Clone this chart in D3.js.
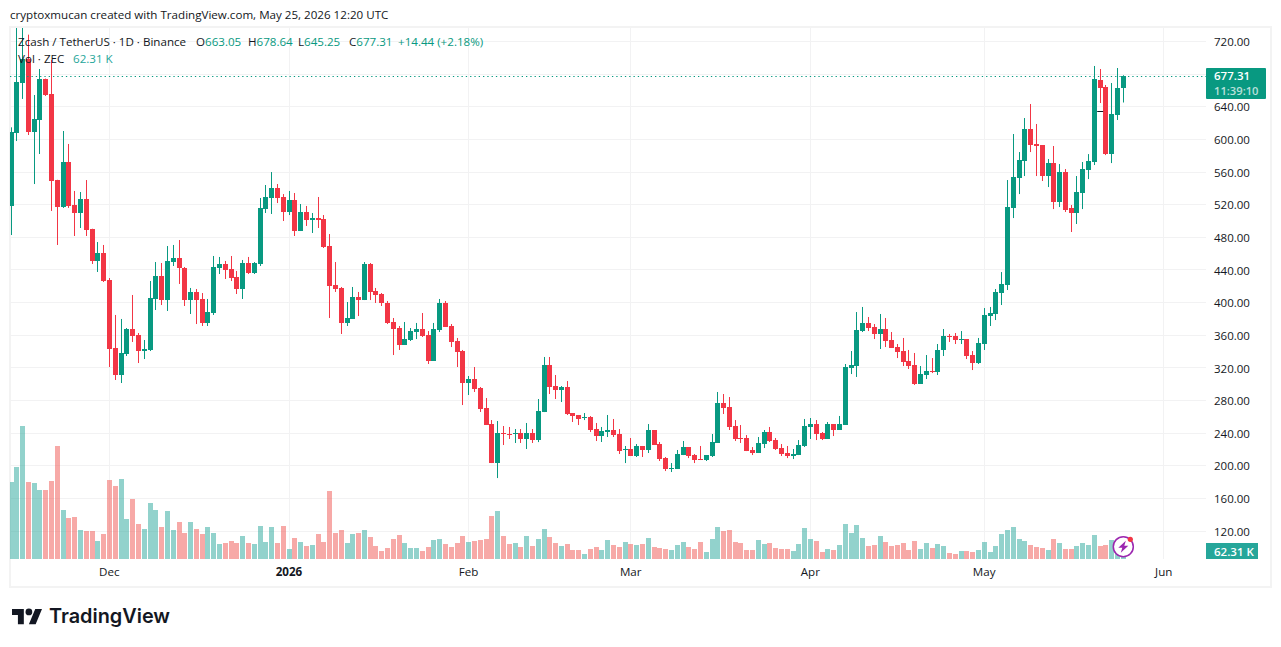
<!DOCTYPE html>
<html><head><meta charset="utf-8">
<script src="https://cdn.jsdelivr.net/npm/d3@7/dist/d3.min.js"></script>
<style>
html,body{margin:0;padding:0;background:#fff;overflow:hidden}
svg{display:block}
text{font-family:"Open Sans",sans-serif;fill:#131722}
</style></head><body>
<svg id="c" width="1281" height="647"></svg>
<script>
const firstDay = "2025-11-14";
const opens = [518.8,608.3,669.6,699,609,623.8,674,655.7,550.2,517.2,
572.3,519.6,509.8,527,490.2,451,460.8,427.7,344.3,311.2,
337,367.6,360.2,340.6,341.9,404.4,432.6,403.1,449.7,454.6,
442.4,403.1,413,404.4,375,387.2,442.4,447.3,441.1,431.3,
416.6,448.5,436.2,447.3,514.7,528.2,540.4,529.4,511,525.7,
487.7,511,501.2,503.7,502.4,469.3,421.5,417.9,375,379.9,
406.8,403.1,447.3,414.2,410.5,399.5,376.2,368.8,348,354.1,
363.9,367.6,360.2,328.4,366.4,399.5,371.3,352.9,340.6,301.4,
306.3,295.3,270.8,251.1,203.3,240.1,239.5,239,240.1,232.8,
240.1,231.5,265.8,323.5,297.7,292.8,296.5,264.6,262.2,258.5,
259.7,245,236.4,241.3,243.8,238.9,219.3,220.5,211.9,224.2,
219.3,243.8,226.6,209.4,196,196,213.1,222.9,213.1,208.2,
207,211.9,227.9,276.9,272,248.7,234,234,219.3,215.6,
226.6,241.3,231.5,221.7,215.6,211.9,213.1,224.2,247.5,251.1,
240.1,232.8,251.1,243.8,250,319.8,322.2,365.1,375,370,
361.5,367.6,354.1,345.5,340.6,328.4,323.5,300.2,311.2,316.1,
314.9,341.9,359,359,354.1,355.3,335.7,325.9,349.2,383.5,
386,411.7,421.5,515.9,552.7,573.5,612.7,594.3,593.1,555.1,
571,523.2,560,515.9,509.8,534.3,562.5,572.3,672.8,664.2,
582,629.9,663.05];
const closes = [608.7,670.4,699,609,625,674,654.4,549,517.2,572.3,
518.4,509.8,527,489,451,460.8,426.4,343.1,311.2,338.2,
367.6,359,340.6,343.1,405.6,432.6,403.1,451,454.6,442.4,
403.1,413,403.1,375,388.4,443.6,447.3,439.9,430.1,416.6,
448.5,436.2,448.5,515.9,529.4,540.4,528.2,511,525.7,487.7,
511,501.2,503.7,501.2,468.1,420.3,416.6,375,381.1,406.8,
403.1,447.3,413,409.3,399.5,375,367.6,348,355.3,365.1,
367.6,359,328.4,367.6,399.5,370.1,351.7,339.4,301.4,306.3,
294,269.5,249.9,203.3,240.1,238.9,238.9,240,232.8,240.1,
231.5,267,323.5,296.5,292.8,296.5,263.4,260.9,257.3,259.7,
243.8,236.4,242.6,243.8,237.6,218,220.5,211.9,224.2,219.3,
243.8,225.4,208.2,196,197.2,214.4,222.9,211.9,207,207,
213.1,229.1,276.9,270.8,247.5,232.8,232.8,218,215.6,227.9,
241.3,230.3,220.5,214.4,211.9,214.4,225.4,248.7,251.1,238.9,
232.8,251.1,243.8,251.1,321,323.5,366.4,375,368.8,361.5,
367.6,352.9,344.3,339.4,327.1,322.2,300.2,312.4,316.1,314.9,
341.9,359,357.8,354.1,355.3,334.5,325.9,350.4,384.8,387.2,
412.9,422.7,517.1,553.9,574.7,612.7,593.1,591.9,555.1,571,
523.2,560,513.4,509.8,535.5,563.7,573.5,674,663,582,
631.1,663,677.31];
const highs = [614.8,780,760,728.4,654.4,686.3,674.5,697.3,550.5,610.3,
594.4,536.8,535.5,550.2,490.5,474.2,470.6,430.1,384.8,379.9,
368.8,409.3,362.7,354.1,426.4,449.7,448.5,469.3,470.6,476.7,
443.6,417.9,416.6,411.7,404.4,457.1,455.9,451,457.1,438.7,
452.2,455.9,449.7,528.2,544.1,560,545.3,533,536.8,534.3,
520.8,518.4,509.8,529.4,507.3,484,449.7,419.1,400.7,419.1,
413,449.7,448.5,417.9,411.7,401.9,381.1,371.3,376.2,368.8,
375,387.2,365.1,375,404.4,401.9,373.7,356.6,341.9,310,
321,296.5,283,256,254.8,248.7,247.5,245,245,252.4,
245,281.8,333.3,333.3,311.2,297.7,303.8,264.6,262.2,264.6,
260.9,252.4,247.5,262.2,257.3,245,224.2,234,226.6,224.2,
251.1,243.8,229.1,210.7,203.3,219.3,230.3,222.9,214.4,224.2,
213.1,238.9,290.4,287.9,284.2,256,249.9,237.6,222.9,235.2,
243.8,247.5,234,226.6,224.2,220.5,231.5,257.3,258.5,256,
241.3,253.6,251.1,261,324.7,340.6,388.4,394.6,382.3,373.7,
386,381.1,363.9,349.2,356.6,341.9,338.2,322.2,335.7,332,
349.2,367.6,361.5,362.7,365.1,355.3,340.6,356.6,393.3,394.6,
416.6,437.4,550.2,606.6,584.5,626.2,643.4,618.9,593.1,576,
591.9,569.8,563.7,519.6,555.1,572.3,582,690,686.3,666.7,
669.1,687.5,678.64];
const lows = [482.8,598,649.6,605.4,545.3,582.1,653.2,512.3,470.6,516,
516,481.6,491.4,481.6,447.3,437.5,425.2,321,305.1,301.4,
334.5,351.7,325.9,330.8,340.6,390.9,397,389.7,444.8,422.8,
395.8,386,373.7,371.3,371.3,384.8,435,428.9,426.4,410.5,
404.4,435,435,444.8,509.8,508.6,522,500,507.3,481.6,
487.7,493.9,485.3,491.4,466.9,381.1,413,361.5,371.3,379.9,
383.5,403.1,403.1,399.5,395.8,373.7,335.7,341.9,348,352.9,
355.3,357.8,324.7,328.4,363.9,370.1,345.5,321,274.4,286.7,
290.4,265.9,249.9,203.3,184.9,225.4,232.8,227.9,227.9,220.5,
227.9,229,265.8,287.9,281.8,278.1,262.2,253.6,249.9,256,
241.3,230.3,229.1,235.2,235.2,214.4,203.3,211.9,210.7,210.7,
215.6,225.4,205.8,193.5,192.3,196,213.1,209.4,203.3,207,
205.8,210.7,227.9,263.4,243.8,230.3,227.9,218,213.1,215.6,
221.7,229.1,219.3,211.9,209.4,208.2,213.1,223,232.8,231.5,
231.5,232.8,236.4,243.8,250,312.4,308.8,363.9,365.1,355.3,
343.1,345.5,344.3,332,322.2,318.6,299,300.2,306.3,313.6,
311.2,334.5,351.7,349.2,349.2,330.8,317.3,324.7,341.9,371.3,
378.6,397,415.4,503.6,533,555.1,584.5,555.1,549,541.6,
514.6,517.1,511,486.5,496.3,514.6,551.4,568.6,644.6,580.8,
571,623.8,645.25];
const volumes = [770,920,1330,770,760,690,690,780,1130,490,
410,420,290,280,280,180,250,790,730,800,
400,600,350,300,560,490,320,480,290,370,
260,370,300,250,320,260,150,160,180,160,
230,160,150,330,170,320,160,330,100,210,
170,130,140,250,170,680,260,290,160,250,
260,290,220,130,80,110,200,240,160,110,
110,80,120,190,200,150,120,160,230,170,
180,190,200,430,480,230,150,160,120,230,
130,200,300,220,160,130,150,90,90,50,
100,120,90,190,140,120,170,150,140,150,
210,120,110,100,90,140,170,120,100,170,
70,200,320,280,290,170,160,90,90,190,
150,160,110,100,100,80,150,310,200,180,
70,100,90,140,350,260,340,210,130,140,
230,170,130,140,160,90,180,100,160,110,
150,130,60,50,80,80,70,90,170,70,
130,250,290,320,200,180,140,120,110,90,
200,160,100,100,130,160,140,240,130,140,
190,150,62.31];
const priceTickLabels = [720,640,600,560,520,480,440,400,360,320,280,240,200,160,120];
const gridPrices = [720,680,640,600,560,520,480,440,400,360,320,280,240,200,160,120];
const timeTickDates = ["2025-12-01","2026-01-01","2026-02-01","2026-03-01","2026-04-01","2026-05-01","2026-06-01"];
const timeTickLabels = ["Dec","2026","Feb","Mar","Apr","May","Jun"];
const lastPrice = 677.31, lastVolumeLabel = "62.31 K", countdown = "11:39:10";
const markPrice = 634.8;

const UP = "#089981", DOWN = "#F23645";
const svg = d3.select("#c");
const parse = d3.utcParse("%Y-%m-%d");
const start = parse(firstDay);
const dates = opens.map((_, i) => d3.utcDay.offset(start, i));
const x = d3.scaleUtc().domain([parse("2025-12-01"), parse("2026-06-01")]).range([109.5, 1163.9]);
const y = d3.scaleLinear().domain([720, 120]).range([41.5, 531]);
const yVol = d3.scaleLinear().domain([0, 1500]).range([559, 409]);
const plot = {l: 10, r: 1206, t: 28, b: 559};

svg.append("text").attr("x", 10).attr("y", 19).attr("font-size", 11.6).text("cryptoxmucan created with TradingView.com, May 25, 2026 12:20 UTC");

// frame
svg.append("rect").attr("x", 10).attr("y", 27).attr("width", 1261).attr("height", 560)
  .attr("fill", "none").attr("stroke", "#f3f3f3").attr("stroke-width", 2);

svg.append("defs").append("clipPath").attr("id", "pc").append("rect")
  .attr("x", plot.l).attr("y", plot.t).attr("width", plot.r - plot.l).attr("height", plot.b - plot.t);

// grid
const grid = svg.append("g").attr("stroke", "#f2f2f3").attr("stroke-width", 1);
grid.selectAll(".h").data(gridPrices).join("line").attr("x1", plot.l).attr("x2", plot.r)
  .attr("y1", d => Math.floor(y(d)) + .5).attr("y2", d => Math.floor(y(d)) + .5);
grid.selectAll(".v").data(timeTickDates).join("line")
  .attr("x1", d => Math.floor(x(parse(d))) + .5).attr("x2", d => Math.floor(x(parse(d))) + .5)
  .attr("y1", plot.t).attr("y2", plot.b);

const g = svg.append("g").attr("clip-path", "url(#pc)");
const idx = d3.range(opens.length);
const col = i => closes[i] >= opens[i] ? UP : DOWN;
const volCol = i => closes[i] >= opens[i] ? "rgba(38,166,154,.5)" : "rgba(239,83,80,.5)";

// volume
g.append("g").selectAll("rect").data(idx).join("rect")
  .attr("x", i => Math.floor(x(dates[i])) - 2).attr("width", 5)
  .attr("y", i => yVol(volumes[i])).attr("height", i => yVol(0) - yVol(volumes[i]))
  .attr("fill", volCol);

// candles
g.append("g").selectAll("rect").data(idx).join("rect")
  .attr("x", i => Math.floor(x(dates[i]))).attr("width", 1)
  .attr("y", i => y(highs[i])).attr("height", i => y(lows[i]) - y(highs[i]))
  .attr("fill", col);
g.append("g").selectAll("rect").data(idx).join("rect")
  .attr("x", i => Math.floor(x(dates[i])) - 2).attr("width", 5)
  .attr("y", i => Math.round(y(Math.max(opens[i], closes[i]))))
  .attr("height", i => Math.max(1, Math.round(y(Math.min(opens[i], closes[i]))) - Math.round(y(Math.max(opens[i], closes[i])))))
  .attr("fill", col);

// small black mark
const mk = dates[188];
svg.append("line").attr("x1", x(mk) - 3).attr("x2", x(mk) + 3).attr("y1", Math.floor(y(markPrice)) + .5).attr("y2", Math.floor(y(markPrice)) + .5)
  .attr("stroke", "#131722").attr("stroke-width", 1);

// last price line
svg.append("line").attr("x1", plot.l).attr("x2", plot.r).attr("y1", Math.floor(y(lastPrice)) + .5).attr("y2", Math.floor(y(lastPrice)) + .5)
  .attr("stroke", UP).attr("stroke-width", 1).attr("stroke-dasharray", "1.3 3");

// axes
const yAxis = d3.axisRight(y).tickValues(priceTickLabels).tickSize(0).tickPadding(8).tickFormat(d3.format(".2f"));
const ga = svg.append("g").attr("transform", "translate(1206,0.5)").call(yAxis);
ga.select(".domain").remove();
ga.selectAll("text").attr("font-size", 11.5).style("font-family", '"Open Sans",sans-serif').attr("fill", "#131722");

const xAxis = d3.axisBottom(x).tickValues(timeTickDates.map(parse)).tickSize(0).tickPadding(9)
  .tickFormat((d, i) => timeTickLabels[i]);
const gx = svg.append("g").attr("transform", `translate(-0.7,${plot.b})`).call(xAxis);
gx.select(".domain").remove();
gx.selectAll("text").attr("font-size", 11.6).style("font-family", '"Open Sans",sans-serif').attr("fill", "#131722")
  .attr("font-weight", (d, i) => timeTickLabels[i] === "2026" ? 700 : 400);

// header
const h1 = svg.append("text").attr("x", 18).attr("y", 46).attr("font-size", 11.6);
h1.append("tspan").text("Zcash / TetherUS · 1D · Binance");
const ohlc = [["O","663.05",196],["H","678.64",248],["L","645.25",298],["C","677.31",349]];
ohlc.forEach(([a, b, px]) => {
  const t = svg.append("text").attr("x", px).attr("y", 46).attr("font-size", 11.6);
  t.append("tspan").text(a);
  t.append("tspan").style("fill", UP).text(b);
});
svg.append("text").attr("x", 398).attr("y", 46).attr("font-size", 11.6).style("fill", UP).text("+14.44 (+2.18%)");
svg.append("text").attr("x", 18).attr("y", 63).attr("font-size", 11.6).text("Vol · ZEC");
svg.append("text").attr("x", 73).attr("y", 63).attr("font-size", 11.6).style("fill", "#26a69a").text(lastVolumeLabel);

// last price box
svg.append("rect").attr("x", 1206).attr("y", 68).attr("width", 60).attr("height", 31).attr("rx", 1).attr("fill", UP);
svg.append("text").attr("x", 1214).attr("y", 80).attr("font-size", 11.5).attr("font-weight", 600).style("fill", "#fff").text(lastPrice.toFixed(2));
svg.append("text").attr("x", 1214).attr("y", 95).attr("font-size", 11.2).attr("font-weight", 600).style("fill", "rgba(255,255,255,.72)").text(countdown);

// volume box
svg.append("rect").attr("x", 1206).attr("y", 543).attr("width", 52).attr("height", 16).attr("fill", "#26a69a");
svg.append("text").attr("x", 1214).attr("y", 555.5).attr("font-size", 11.5).attr("font-weight", 600).style("fill", "#fff").text(lastVolumeLabel);

// bolt icon
const icon = svg.append("g").attr("transform", "translate(1123.3,546.7)");
icon.append("circle").attr("r", 10).attr("fill", "#fff").attr("stroke", "#9c27b0").attr("stroke-width", 1.5);
icon.append("path").attr("d", "M2.5 -6 L-5 1 L-1 1 L-2.5 6 L5 -1 L1 -1 Z").attr("fill", "#9c27b0");
icon.append("circle").attr("cx", 7).attr("cy", -7.4).attr("r", 2.6).attr("fill", DOWN);

// logo
svg.append("g").attr("transform", "translate(12,605.6) scale(.845)").call(s => {
  s.append("path").attr("d", "M14 22H7V11H0V4h14v18zM28 22h-8l7.5-18h8L28 22z").attr("fill", "#131722");
  s.append("circle").attr("cx", 20).attr("cy", 7.5).attr("r", 4).attr("fill", "#131722");
});
svg.append("text").attr("x", 49).attr("y", 623.3).attr("font-size", 20).attr("font-weight", 600)
  .attr("textLength", 121).attr("lengthAdjust", "spacingAndGlyphs")
  .style("font-family", "Inter,sans-serif").text("TradingView");
</script></body></html>
